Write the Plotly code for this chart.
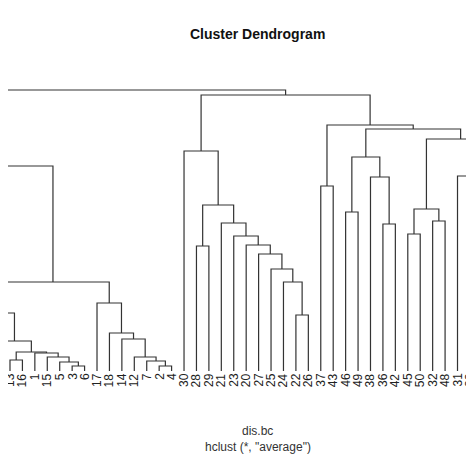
import plotly.graph_objects as go

# leaf order as drawn (some leaves fall outside the cropped view)
leaf_order = ["10", "11", "19", "8", "9", "41",
              "13", "16", "1", "15", "5", "3", "6",
              "17", "18", "14", "12", "7", "2", "4",
              "30", "28", "29", "21", "23", "20", "27", "25", "24", "22", "26",
              "37", "43", "46", "49", "38", "36", "42", "45", "50", "32", "48",
              "31", "33", "34", "35", "39", "40", "44", "47"]
first_visible = 6  # leaf "13"

# merges: name -> (left, right, height)
merges = [
    ("a1", "11", "19", 120), ("Y", "10", "a1", 150),
    ("Z", "8", "9", 12),
    ("b1", "3", "6", 5), ("b2", "5", "b1", 9), ("b3", "15", "b2", 14),
    ("b4", "1", "b3", 18), ("b5", "13", "16", 11), ("b6", "b5", "b4", 19),
    ("b7", "41", "b6", 30), ("b8", "Z", "b7", 58),
    ("c1", "2", "4", 5), ("c2", "7", "c1", 10), ("c3", "12", "c2", 14),
    ("c4", "14", "c3", 32), ("c5", "18", "c4", 38), ("c6", "17", "c5", 68),
    ("B", "b8", "c6", 89), ("L", "Y", "B", 205),
    ("d1", "22", "26", 56), ("d2", "24", "d1", 89), ("d3", "25", "d2", 102),
    ("d4", "27", "d3", 117), ("d5", "20", "d4", 126), ("d6", "23", "d5", 135),
    ("d7", "21", "d6", 148), ("d8", "28", "29", 125), ("d9", "d8", "d7", 166),
    ("d10", "30", "d9", 220),
    ("e1", "37", "43", 185), ("e2", "46", "49", 159), ("e3", "36", "42", 147),
    ("e4", "38", "e3", 194), ("e5", "e2", "e4", 214), ("e6", "45", "50", 137),
    ("e7", "32", "48", 150), ("e8", "e6", "e7", 162), ("e9", "33", "34", 14),
    ("e10", "e9", "35", 176), ("e11", "31", "e10", 195),
    ("f1", "44", "47", 60), ("f2", "40", "f1", 120), ("f3", "39", "f2", 200),
    ("e12", "e11", "f3", 228), ("e13", "e8", "e12", 232), ("e14", "e5", "e13", 242),
    ("e15", "e1", "e14", 246), ("R", "d10", "e15", 276), ("top", "L", "R", 281),
]

xpos = {lab: i - first_visible for i, lab in enumerate(leaf_order)}
hgt = {lab: 0 for lab in leaf_order}
xs, ys = [], []
for name, l, r, h in merges:
    xl, xr = xpos[l], xpos[r]
    xs += [xl, xl, xr, xr, None]
    ys += [hgt[l], h, h, hgt[r], None]
    xpos[name] = (xl + xr) / 2
    hgt[name] = h

fig = go.Figure(go.Scatter(x=xs, y=ys, mode="lines",
                           line=dict(color="#333333", width=1.2),
                           hoverinfo="skip"))

xmin, xmax = -0.16, 37.97
annotations = []
for lab in leaf_order:
    if xmin < xpos[lab] < xmax:
        annotations.append(dict(x=xpos[lab], y=0, xref="x", yref="y", text=lab,
                                textangle=-90, showarrow=False, xanchor="center",
                                yanchor="top", font=dict(size=12, color="#222")))
annotations += [
    dict(x=0.527, y=0.966, xref="paper", yref="paper", text="<b>Cluster Dendrogram</b>",
         showarrow=False, font=dict(size=14, color="#111")),
    dict(x=0.527, y=0.089, xref="paper", yref="paper", text="dis.bc",
         showarrow=False, font=dict(size=12, color="#333")),
    dict(x=0.527, y=0.055, xref="paper", yref="paper", text='hclust (*, "average")',
         showarrow=False, font=dict(size=12, color="#333")),
]

fig.update_layout(
    width=474, height=474,
    margin=dict(l=0, r=0, t=0, b=0),
    paper_bgcolor="white", plot_bgcolor="white",
    showlegend=False,
    font=dict(family="Liberation Sans, Arial, sans-serif"),
    xaxis=dict(range=[xmin, xmax], visible=False),
    yaxis=dict(range=[-111, 363], visible=False),
    annotations=annotations,
)

fig.write_html("out.html")
